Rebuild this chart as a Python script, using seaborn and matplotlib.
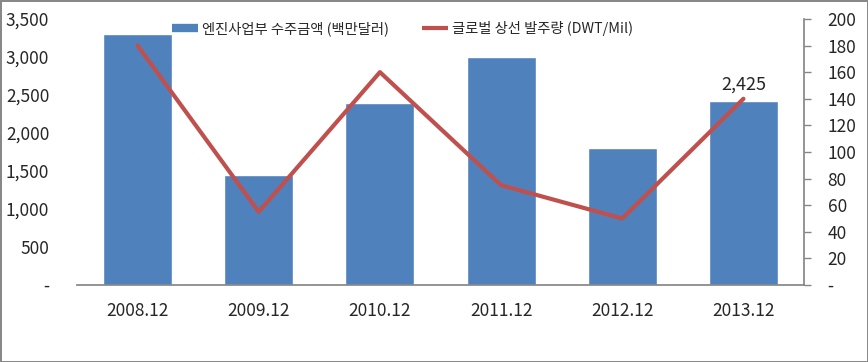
import matplotlib
matplotlib.use('Agg')
import matplotlib.pyplot as plt
import matplotlib.ticker as mticker
from matplotlib.lines import Line2D
import seaborn as sns

sns.set_theme(style='white')
plt.rcParams['font.family'] = ['Noto Sans CJK KR', 'DejaVu Sans']

years = ['2008.12', '2009.12', '2010.12', '2011.12', '2012.12', '2013.12']
engine_orders = [3300, 1450, 2400, 3000, 1800, 2425]   # 백만달러
ship_orders = [180, 55, 160, 75, 50, 140]               # DWT/Mil

bar_color = '#4F81BD'
line_color = '#C0504D'
axis_gray = '#868686'

fig = plt.figure(figsize=(8.68, 3.62), dpi=100)
fig.patch.set_edgecolor('#888888')
fig.patch.set_linewidth(2)
ax = fig.add_axes([0.0887, 0.2127, 0.8376, 0.735])

sns.barplot(x=years, y=engine_orders, color=bar_color, width=0.57,
            saturation=1, ax=ax)
ax.set_ylim(0, 3500)
ax.set_yticks(range(0, 3501, 500))
ax.yaxis.set_major_formatter(mticker.FuncFormatter(
    lambda v, p: '-' if v == 0 else f'{int(v):,}'))
ax.tick_params(axis='y', length=0, pad=20, labelsize=12.5)
ax.tick_params(axis='x', length=0, pad=12, labelsize=12.5)
for side in ['left', 'top', 'right']:
    ax.spines[side].set_visible(False)
ax.spines['bottom'].set_color(axis_gray)
ax.set_xlabel('')

labels = [''] * (len(engine_orders) - 1) + [f'{engine_orders[-1]:,}']
ax.bar_label(ax.containers[0], labels=labels, padding=5, fontsize=13)

ax2 = ax.twinx()
sns.pointplot(x=years, y=ship_orders, color=line_color, markers='',
              linewidth=3, ax=ax2)
ax2.set_ylim(0, 200)
ax2.set_yticks(range(0, 201, 20))
ax2.yaxis.set_major_formatter(mticker.FuncFormatter(
    lambda v, p: '-' if v == 0 else f'{int(v)}'))
ax2.tick_params(axis='y', direction='out', length=5, width=1,
                color=axis_gray, pad=12, labelsize=12.5)
for side in ['left', 'top', 'bottom']:
    ax2.spines[side].set_visible(False)
ax2.spines['right'].set_color(axis_gray)
ax2.set_ylabel('')

handles = [Line2D([], [], color=bar_color, linewidth=6, solid_capstyle='butt'),
           Line2D([], [], color=line_color, linewidth=3, solid_capstyle='butt')]
names = ['엔진사업부 수주금액 (백만달러)', '글로벌 상선 발주량 (DWT/Mil)']
fig.legend(handles, names, loc='center', bbox_to_anchor=(0.464, 0.922),
           ncol=2, frameon=False, fontsize=10.3, handlelength=1.8,
           handletextpad=0.3, columnspacing=2.3)

fig.savefig('out.png', dpi=100)
